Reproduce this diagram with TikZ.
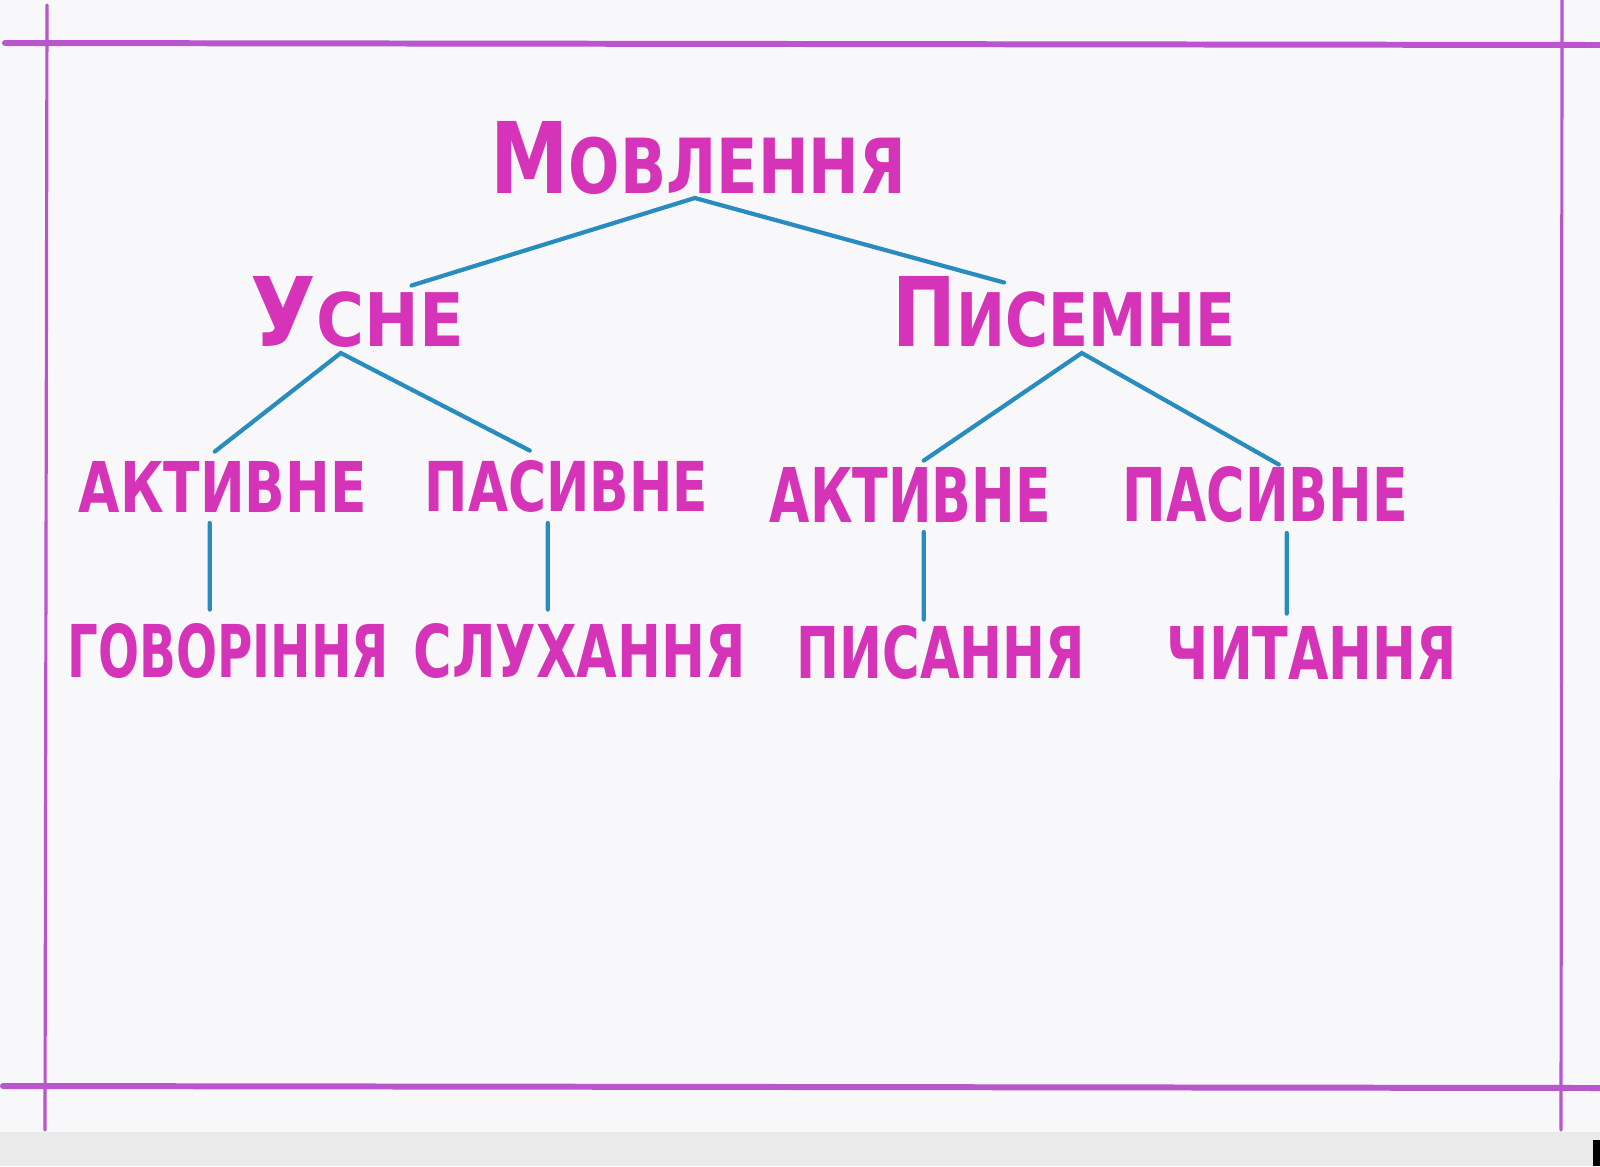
\documentclass[tikz,border=0pt]{standalone}
\usepackage{fontspec}
\setmainfont{DejaVu Sans}
\usepackage{graphicx}

\definecolor{ink}{RGB}{214,52,184}
\definecolor{pen}{RGB}{40,140,190}
\definecolor{frame}{RGB}{185,85,205}
\definecolor{paper}{RGB}{248,247,250}
\definecolor{scan}{RGB}{234,234,234}

\newcommand{\stencil}[3]{\resizebox{#1}{#2}{\fontsize{20pt}{20pt}\selectfont\bfseries #3}}
\newcommand{\capfirst}[2]{{\fontsize{26pt}{26pt}\selectfont #1}#2}

\tikzset{
  every word/.style={inner sep=0pt, anchor=south west, text=ink},
  link/.style={draw=pen, line width=1.2pt, line cap=round},
  border/.style={draw=frame, line cap=round},
}

\begin{document}
\begin{tikzpicture}[x=0.01cm, y=-0.01cm]
    \useasboundingbox (0,0) rectangle (1600,1166);

    % sheet
    \fill[scan] (0,0) rectangle (1600,1166);
    \fill[paper] (0,0) rectangle (1600,1132);
    \fill[black] (1593,1140) rectangle (1600,1166);

    % frame
    \draw[border, line width=1.7pt] (5,43) -- (1600,45);
    \draw[border, line width=1.7pt] (3,1086) -- (1600,1088);
    \draw[border, line width=0.9pt] (47,5) -- (45,1130);
    \draw[border, line width=0.9pt] (1562,0) -- (1561,1130);

    % top levels
    \node[every word] (root) at (490,195) {\stencil{4.15cm}{0.72cm}{\capfirst{М}{ОВЛЕННЯ}}};
    \node[every word] (oral) at (250,348) {\stencil{2.13cm}{0.70cm}{\capfirst{У}{СНЕ}}};
    \node[every word] (written) at (892,348) {\stencil{3.43cm}{0.70cm}{\capfirst{П}{ИСЕМНЕ}}};

    % second level
    \foreach \n/\x/\y/\w/\h/\t in {oralact/78/513/2.88/.51/АКТИВНЕ, oralpas/424/513/2.83/.51/ПАСИВНЕ,
      wract/769/523/2.81/.55/АКТИВНЕ, wrpas/1122/523/2.85/.55/ПАСИВНЕ}
    \node[every word] (\n) at (\x,\y) {\stencil{\w cm}{\h cm}{\t}};

    % activities
    \foreach \n/\x/\y/\w/\h/\t in {speak/67/679/3.21/.54/ГОВОРІННЯ, listen/413/679/3.32/.54/СЛУХАННЯ,
      write/796/680/2.88/.53/ПИСАННЯ, read/1166/680/2.90/.53/ЧИТАННЯ}
    \node[every word] (\n) at (\x,\y) {\stencil{\w cm}{\h cm}{\t}};

    % links
    \draw[link] ([shift={(-53,10)}]oral.north east) -- ([shift={(-3.5,3)}]root.south)
      -- ([shift={(112,7)}]written.north west);
    \draw[link] ([shift={(-8,-9)}]oralact.north) -- ([shift={(-16.5,5)}]oral.south)
      -- ([shift={(-36.5,-9)}]oralpas.north);
    \draw[link] ([shift={(13.5,-6)}]wract.north) -- ([shift={(17.5,5)}]written.south)
      -- ([shift={(13.5,-1)}]wrpas.north);

    \draw[link] ([shift={(-13,10)}]oralact.south) -- ([shift={(-18.5,-13)}]speak.north);
    \draw[link] ([shift={(-18.5,10)}]oralpas.south) -- ([shift={(-32,-13)}]listen.north);
    \draw[link] ([shift={(13.5,9)}]wract.south) -- ([shift={(-17,-5)}]write.north);
    \draw[link] ([shift={(21.5,10)}]wrpas.south) -- ([shift={(-25,-12)}]read.north);
\end{tikzpicture}
\end{document}
